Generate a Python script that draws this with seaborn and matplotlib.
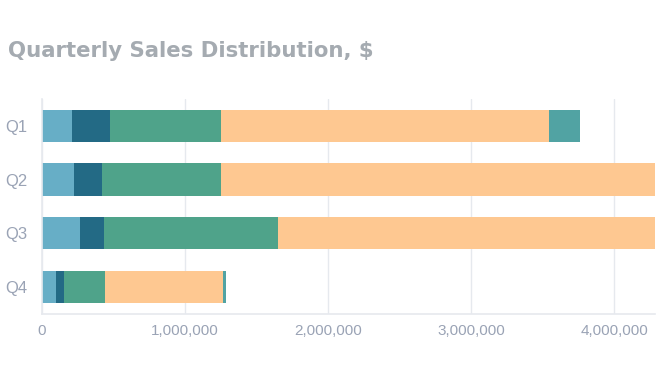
import matplotlib
matplotlib.use("Agg")
import matplotlib.pyplot as plt
import seaborn as sns
import pandas as pd
import numpy as np

quarters = ["Q1", "Q2", "Q3", "Q4"]
segment_names = ["A", "B", "C", "D", "E"]
seg_a = [213000, 226000, 268000, 100000]
seg_b = [265000, 196000, 168000, 56000]
seg_c = [775000, 831000, 1215000, 286000]
seg_d = [2290000, 3300000, 3000000, 824000]
seg_e = [216000, 200000, 200000, 21000]
colors = ["#67aec6", "#236a85", "#4fa38a", "#fec891", "#51a3a3"]

segments = [seg_a, seg_b, seg_c, seg_d, seg_e]
cum = np.cumsum(np.array(segments), axis=0)

sns.set_theme(style="white")
plt.rcParams["font.family"] = ["Liberation Sans", "DejaVu Sans"]

fig = plt.figure(figsize=(6.6, 3.8), dpi=100)
ax = fig.add_axes([0.0629, 0.1737, 0.9295, 0.5658])

# draw from the longest cumulative bar down so the shorter ones sit on top
for i in range(len(segments) - 1, -1, -1):
    df = pd.DataFrame({"quarter": quarters, "value": cum[i]})
    sns.barplot(data=df, x="value", y="quarter", orient="h", color=colors[i],
                saturation=1, width=0.6, linewidth=0, ax=ax, zorder=2)

ax.set_xlim(0, 4286000)
ax.set_ylim(3.5, -0.5)
ax.set_xticks([0, 1000000, 2000000, 3000000, 4000000])
ax.set_xticklabels(["0", "1,000,000", "2,000,000", "3,000,000", "4,000,000"])
ax.set_xlabel("")
ax.set_ylabel("")
ax.xaxis.grid(True, color="#e6e9ee", linewidth=1, zorder=0)
ax.set_axisbelow(True)
for s in ["top", "right"]:
    ax.spines[s].set_visible(False)
for s in ["left", "bottom"]:
    ax.spines[s].set_color("#e6e9ee")
    ax.spines[s].set_linewidth(1.2)
ax.tick_params(axis="both", length=0, labelcolor="#9aa3b5")
ax.tick_params(axis="x", labelsize=11, pad=7)
ax.tick_params(axis="y", labelsize=12, pad=10)

fig.text(8 / 660, 1 - 57 / 380, "Quarterly Sales Distribution, $", fontsize=15.3,
         fontweight="heavy", color="#a5abb1", family=["DejaVu Sans"], va="baseline")

fig.savefig("out.png", dpi=100)
